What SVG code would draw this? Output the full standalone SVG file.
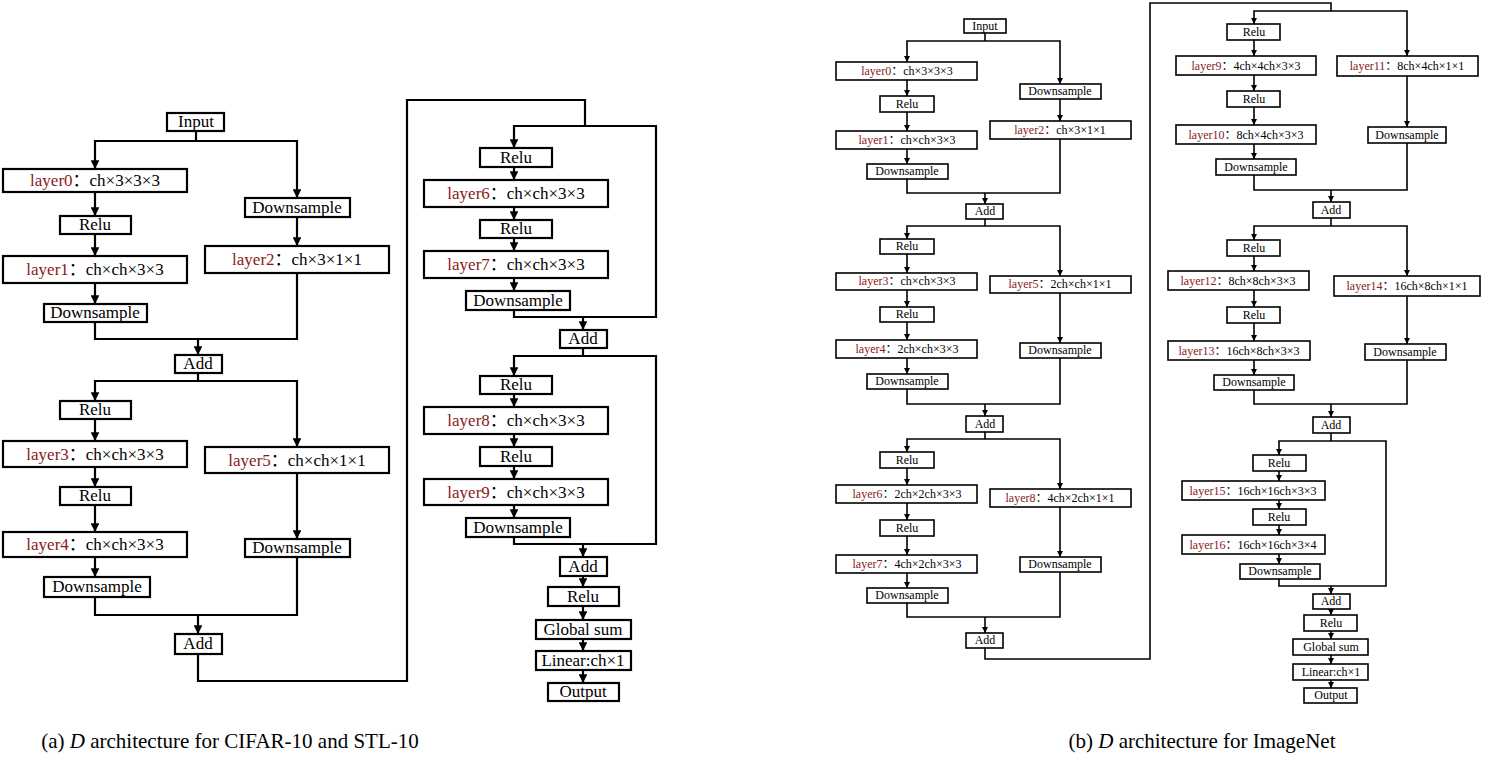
<svg xmlns="http://www.w3.org/2000/svg" width="1495" height="761" viewBox="0 0 1495 761">
<style>
rect{fill:#fff;stroke:#000}
.a rect{stroke-width:2.2}
.b rect{stroke-width:1.6}
text{font-family:"Liberation Serif","Noto Sans CJK SC",serif;text-anchor:middle;fill:#000}
.a text{font-size:17px}
.b text{font-size:12px}
.r{fill:#8b1a1a}
.ca path{fill:none;stroke:#000;stroke-width:2.2}
.cb path{fill:none;stroke:#000;stroke-width:1.6}
.cap{font-size:21px}
</style>
<defs>
<marker id="m" viewBox="0 0 10 10" refX="10" refY="5" markerWidth="4" markerHeight="4" orient="auto" markerUnits="strokeWidth"><path d="M0,0L10,5L0,10z" fill="#000"/></marker>
</defs>
<rect x="0" y="0" width="1495" height="761" style="fill:#fff;stroke:none"/>
<g class="ca">
<path d="M196,131V141"/><path d="M196,141H95V169" marker-end="url(#m)"/><path d="M196,141H297V198" marker-end="url(#m)"/>
<path d="M95,192V216" marker-end="url(#m)"/><path d="M95,234V256" marker-end="url(#m)"/><path d="M95,283V304" marker-end="url(#m)"/>
<path d="M297,217V246" marker-end="url(#m)"/><path d="M95,322V339H297V273"/><path d="M198,339V355" marker-end="url(#m)"/>
<path d="M198,373V381"/><path d="M198,381H95V401" marker-end="url(#m)"/><path d="M198,381H297V447" marker-end="url(#m)"/>
<path d="M95,419V441" marker-end="url(#m)"/><path d="M95,467V487" marker-end="url(#m)"/><path d="M95,505V532" marker-end="url(#m)"/><path d="M95,557V577" marker-end="url(#m)"/>
<path d="M297,473V539" marker-end="url(#m)"/><path d="M95,597V615H297V557"/><path d="M198,615V634" marker-end="url(#m)"/>
<path d="M198,654V681H407V100H585V126"/><path d="M585,126H514V148" marker-end="url(#m)"/><path d="M514,310V317H656V126H585"/>
<path d="M514,167V180" marker-end="url(#m)"/><path d="M514,207V220" marker-end="url(#m)"/><path d="M514,238V251" marker-end="url(#m)"/><path d="M514,278V291" marker-end="url(#m)"/>
<path d="M583,317V330" marker-end="url(#m)"/>
<path d="M583,348V356"/><path d="M583,356H514V376" marker-end="url(#m)"/><path d="M514,537V544H656V356H583"/>
<path d="M514,394V407" marker-end="url(#m)"/><path d="M514,434V447" marker-end="url(#m)"/><path d="M514,466V479" marker-end="url(#m)"/><path d="M514,505V518" marker-end="url(#m)"/>
<path d="M583,544V557" marker-end="url(#m)"/><path d="M583,576V587" marker-end="url(#m)"/><path d="M583,606V620" marker-end="url(#m)"/><path d="M583,639V651" marker-end="url(#m)"/><path d="M583,670V683" marker-end="url(#m)"/>
</g>
<g class="a">
<g id="a-input"><rect x="167" y="113" width="57" height="18"/><text x="196" y="127">Input</text></g>
<g id="a-layer0"><rect x="3" y="169" width="184" height="23"/><text x="95" y="186"><tspan class="r">layer0</tspan>：ch×3×3×3</text></g>
<g id="a-relu1"><rect x="60" y="216" width="71" height="18"/><text x="95" y="230">Relu</text></g>
<g id="a-layer1"><rect x="3" y="256" width="184" height="27"/><text x="95" y="275"><tspan class="r">layer1</tspan>：ch×ch×3×3</text></g>
<g id="a-ds1"><rect x="44" y="304" width="103" height="18"/><text x="95" y="318">Downsample</text></g>
<g id="a-ds2"><rect x="245" y="198" width="105" height="19"/><text x="297" y="213">Downsample</text></g>
<g id="a-layer2"><rect x="205" y="246" width="184" height="27"/><text x="297" y="265"><tspan class="r">layer2</tspan>：ch×3×1×1</text></g>
<g id="a-add1"><rect x="175" y="355" width="47" height="18"/><text x="198" y="369">Add</text></g>
<g id="a-relu2"><rect x="60" y="401" width="71" height="18"/><text x="95" y="415">Relu</text></g>
<g id="a-layer3"><rect x="3" y="441" width="184" height="26"/><text x="95" y="460"><tspan class="r">layer3</tspan>：ch×ch×3×3</text></g>
<g id="a-relu3"><rect x="60" y="487" width="71" height="18"/><text x="95" y="501">Relu</text></g>
<g id="a-layer4"><rect x="3" y="532" width="184" height="25"/><text x="95" y="550"><tspan class="r">layer4</tspan>：ch×ch×3×3</text></g>
<g id="a-ds3"><rect x="44" y="577" width="106" height="20"/><text x="97" y="592">Downsample</text></g>
<g id="a-layer5"><rect x="205" y="447" width="184" height="26"/><text x="297" y="466"><tspan class="r">layer5</tspan>：ch×ch×1×1</text></g>
<g id="a-ds4"><rect x="245" y="539" width="105" height="18"/><text x="297" y="553">Downsample</text></g>
<g id="a-add2"><rect x="175" y="634" width="47" height="20"/><text x="198" y="649">Add</text></g>
<g id="a-relu4"><rect x="480" y="148" width="72" height="19"/><text x="516" y="163">Relu</text></g>
<g id="a-layer6"><rect x="424" y="180" width="184" height="27"/><text x="516" y="199"><tspan class="r">layer6</tspan>：ch×ch×3×3</text></g>
<g id="a-relu5"><rect x="480" y="220" width="72" height="18"/><text x="516" y="234">Relu</text></g>
<g id="a-layer7"><rect x="424" y="251" width="184" height="27"/><text x="516" y="270"><tspan class="r">layer7</tspan>：ch×ch×3×3</text></g>
<g id="a-ds5"><rect x="466" y="291" width="104" height="19"/><text x="518" y="306">Downsample</text></g>
<g id="a-add3"><rect x="560" y="330" width="47" height="18"/><text x="583" y="344">Add</text></g>
<g id="a-relu6"><rect x="480" y="376" width="72" height="18"/><text x="516" y="390">Relu</text></g>
<g id="a-layer8"><rect x="424" y="407" width="184" height="27"/><text x="516" y="426"><tspan class="r">layer8</tspan>：ch×ch×3×3</text></g>
<g id="a-relu7"><rect x="480" y="447" width="72" height="19"/><text x="516" y="462">Relu</text></g>
<g id="a-layer9"><rect x="424" y="479" width="184" height="26"/><text x="516" y="498"><tspan class="r">layer9</tspan>：ch×ch×3×3</text></g>
<g id="a-ds6"><rect x="466" y="518" width="104" height="19"/><text x="518" y="533">Downsample</text></g>
<g id="a-add4"><rect x="560" y="557" width="47" height="19"/><text x="583" y="572">Add</text></g>
<g id="a-relu8"><rect x="548" y="587" width="71" height="19"/><text x="583" y="602">Relu</text></g>
<g id="a-gsum"><rect x="536" y="620" width="95" height="19"/><text x="583" y="635">Global sum</text></g>
<g id="a-linear"><rect x="536" y="651" width="95" height="19"/><text x="583" y="666">Linear:ch×1</text></g>
<g id="a-output"><rect x="548" y="683" width="71" height="18"/><text x="583" y="697">Output</text></g>
</g>
<g class="cb">
<path d="M985,33V41"/><path d="M985,41H907V62" marker-end="url(#m)"/><path d="M985,41H1060V84" marker-end="url(#m)"/>
<path d="M907,80V96" marker-end="url(#m)"/><path d="M907,112V131" marker-end="url(#m)"/><path d="M907,149V164" marker-end="url(#m)"/>
<path d="M1060,99V121" marker-end="url(#m)"/><path d="M907,179V193H1060V139"/><path d="M985,193V204" marker-end="url(#m)"/>
<path d="M985,219V226"/><path d="M985,226H907V239" marker-end="url(#m)"/><path d="M985,226H1060V276" marker-end="url(#m)"/>
<path d="M907,254V273" marker-end="url(#m)"/><path d="M907,290V307" marker-end="url(#m)"/><path d="M907,322V340" marker-end="url(#m)"/><path d="M907,358V374" marker-end="url(#m)"/>
<path d="M1060,293V343" marker-end="url(#m)"/><path d="M907,389V404H1060V358"/><path d="M985,404V416" marker-end="url(#m)"/>
<path d="M985,432V439"/><path d="M985,439H907V452" marker-end="url(#m)"/><path d="M985,439H1060V489" marker-end="url(#m)"/>
<path d="M907,468V485" marker-end="url(#m)"/><path d="M907,503V520" marker-end="url(#m)"/><path d="M907,536V555" marker-end="url(#m)"/><path d="M907,573V588" marker-end="url(#m)"/>
<path d="M1060,507V557" marker-end="url(#m)"/><path d="M907,603V617H1060V572"/><path d="M985,617V633" marker-end="url(#m)"/>
<path d="M985,648V659H1150V3H1331V11"/><path d="M1331,11H1254V24" marker-end="url(#m)"/><path d="M1331,11H1407V56" marker-end="url(#m)"/>
<path d="M1254,40V56" marker-end="url(#m)"/><path d="M1254,75V91" marker-end="url(#m)"/><path d="M1254,107V125" marker-end="url(#m)"/><path d="M1254,144V159" marker-end="url(#m)"/>
<path d="M1407,76V127" marker-end="url(#m)"/><path d="M1254,175V190H1407V143"/><path d="M1331,190V202" marker-end="url(#m)"/>
<path d="M1331,218V226"/><path d="M1331,226H1254V240" marker-end="url(#m)"/><path d="M1331,226H1407V276" marker-end="url(#m)"/>
<path d="M1254,256V271" marker-end="url(#m)"/><path d="M1254,290V307" marker-end="url(#m)"/><path d="M1254,323V341" marker-end="url(#m)"/><path d="M1254,360V375" marker-end="url(#m)"/>
<path d="M1407,296V344" marker-end="url(#m)"/><path d="M1254,390V404H1407V360"/><path d="M1331,404V417" marker-end="url(#m)"/>
<path d="M1331,433V441"/><path d="M1331,441H1279V455" marker-end="url(#m)"/><path d="M1279,579V586H1386V441H1331"/>
<path d="M1279,471V481" marker-end="url(#m)"/><path d="M1279,500V509" marker-end="url(#m)"/><path d="M1279,525V535" marker-end="url(#m)"/><path d="M1279,554V564" marker-end="url(#m)"/>
<path d="M1331,586V594" marker-end="url(#m)"/><path d="M1331,609V615" marker-end="url(#m)"/><path d="M1331,631V639" marker-end="url(#m)"/><path d="M1331,655V664" marker-end="url(#m)"/><path d="M1331,680V688" marker-end="url(#m)"/>
</g>
<g class="b">
<g id="b-input"><rect x="964" y="19" width="42" height="14"/><text x="985" y="30">Input</text></g>
<g id="b-layer0"><rect x="836" y="62" width="141" height="18"/><text x="907" y="75"><tspan class="r">layer0</tspan>：ch×3×3×3</text></g>
<g id="b-relu1"><rect x="880" y="96" width="54" height="16"/><text x="907" y="108">Relu</text></g>
<g id="b-layer1"><rect x="836" y="131" width="141" height="18"/><text x="907" y="144"><tspan class="r">layer1</tspan>：ch×ch×3×3</text></g>
<g id="b-ds1"><rect x="867" y="164" width="81" height="15"/><text x="907" y="175">Downsample</text></g>
<g id="b-ds2"><rect x="1020" y="84" width="81" height="15"/><text x="1060" y="95">Downsample</text></g>
<g id="b-layer2"><rect x="990" y="121" width="141" height="18"/><text x="1060" y="134"><tspan class="r">layer2</tspan>：ch×3×1×1</text></g>
<g id="b-add1"><rect x="966" y="204" width="37" height="15"/><text x="985" y="215">Add</text></g>
<g id="b-relu2"><rect x="880" y="239" width="54" height="15"/><text x="907" y="250">Relu</text></g>
<g id="b-layer3"><rect x="836" y="273" width="141" height="17"/><text x="907" y="285"><tspan class="r">layer3</tspan>：ch×ch×3×3</text></g>
<g id="b-relu3"><rect x="880" y="307" width="54" height="15"/><text x="907" y="318">Relu</text></g>
<g id="b-layer4"><rect x="836" y="340" width="141" height="18"/><text x="907" y="353"><tspan class="r">layer4</tspan>：2ch×ch×3×3</text></g>
<g id="b-ds3"><rect x="867" y="374" width="81" height="15"/><text x="907" y="385">Downsample</text></g>
<g id="b-layer5"><rect x="990" y="276" width="141" height="17"/><text x="1060" y="288"><tspan class="r">layer5</tspan>：2ch×ch×1×1</text></g>
<g id="b-ds4"><rect x="1020" y="343" width="81" height="15"/><text x="1060" y="354">Downsample</text></g>
<g id="b-add2"><rect x="966" y="416" width="37" height="16"/><text x="985" y="428">Add</text></g>
<g id="b-relu4"><rect x="880" y="452" width="54" height="16"/><text x="907" y="464">Relu</text></g>
<g id="b-layer6"><rect x="836" y="485" width="141" height="18"/><text x="907" y="498"><tspan class="r">layer6</tspan>：2ch×2ch×3×3</text></g>
<g id="b-relu5"><rect x="880" y="520" width="54" height="16"/><text x="907" y="532">Relu</text></g>
<g id="b-layer7"><rect x="836" y="555" width="141" height="18"/><text x="907" y="568"><tspan class="r">layer7</tspan>：4ch×2ch×3×3</text></g>
<g id="b-ds5"><rect x="867" y="588" width="81" height="15"/><text x="907" y="599">Downsample</text></g>
<g id="b-layer8"><rect x="990" y="489" width="141" height="18"/><text x="1060" y="502"><tspan class="r">layer8</tspan>：4ch×2ch×1×1</text></g>
<g id="b-ds6"><rect x="1020" y="557" width="81" height="15"/><text x="1060" y="568">Downsample</text></g>
<g id="b-add3"><rect x="966" y="633" width="37" height="15"/><text x="985" y="644">Add</text></g>
<g id="b-relu6"><rect x="1227" y="24" width="53" height="16"/><text x="1254" y="36">Relu</text></g>
<g id="b-layer9"><rect x="1176" y="56" width="140" height="19"/><text x="1246" y="70"><tspan class="r">layer9</tspan>：4ch×4ch×3×3</text></g>
<g id="b-relu7"><rect x="1227" y="91" width="53" height="16"/><text x="1254" y="103">Relu</text></g>
<g id="b-layer10"><rect x="1176" y="125" width="140" height="19"/><text x="1246" y="139"><tspan class="r">layer10</tspan>：8ch×4ch×3×3</text></g>
<g id="b-ds7"><rect x="1216" y="159" width="80" height="16"/><text x="1256" y="171">Downsample</text></g>
<g id="b-layer11"><rect x="1337" y="56" width="141" height="20"/><text x="1407" y="70"><tspan class="r">layer11</tspan>：8ch×4ch×1×1</text></g>
<g id="b-ds8"><rect x="1368" y="127" width="78" height="16"/><text x="1407" y="139">Downsample</text></g>
<g id="b-add4"><rect x="1313" y="202" width="37" height="16"/><text x="1331" y="214">Add</text></g>
<g id="b-relu8"><rect x="1227" y="240" width="53" height="16"/><text x="1254" y="252">Relu</text></g>
<g id="b-layer12"><rect x="1168" y="271" width="141" height="19"/><text x="1238" y="285"><tspan class="r">layer12</tspan>：8ch×8ch×3×3</text></g>
<g id="b-relu9"><rect x="1227" y="307" width="53" height="16"/><text x="1254" y="319">Relu</text></g>
<g id="b-layer13"><rect x="1168" y="341" width="142" height="19"/><text x="1239" y="355"><tspan class="r">layer13</tspan>：16ch×8ch×3×3</text></g>
<g id="b-ds9"><rect x="1214" y="375" width="80" height="15"/><text x="1254" y="386">Downsample</text></g>
<g id="b-layer14"><rect x="1334" y="276" width="146" height="20"/><text x="1407" y="290"><tspan class="r">layer14</tspan>：16ch×8ch×1×1</text></g>
<g id="b-ds10"><rect x="1365" y="344" width="81" height="16"/><text x="1405" y="356">Downsample</text></g>
<g id="b-add5"><rect x="1313" y="417" width="37" height="16"/><text x="1331" y="429">Add</text></g>
<g id="b-relu10"><rect x="1253" y="455" width="53" height="16"/><text x="1279" y="467">Relu</text></g>
<g id="b-layer15"><rect x="1182" y="481" width="143" height="19"/><text x="1253" y="495"><tspan class="r">layer15</tspan>：16ch×16ch×3×3</text></g>
<g id="b-relu11"><rect x="1253" y="509" width="53" height="16"/><text x="1279" y="521">Relu</text></g>
<g id="b-layer16"><rect x="1182" y="535" width="143" height="19"/><text x="1253" y="549"><tspan class="r">layer16</tspan>：16ch×16ch×3×4</text></g>
<g id="b-ds11"><rect x="1240" y="564" width="80" height="15"/><text x="1280" y="575">Downsample</text></g>
<g id="b-add6"><rect x="1313" y="594" width="37" height="15"/><text x="1331" y="605">Add</text></g>
<g id="b-relu12"><rect x="1304" y="615" width="53" height="16"/><text x="1331" y="627">Relu</text></g>
<g id="b-gsum"><rect x="1293" y="639" width="75" height="16"/><text x="1331" y="651">Global sum</text></g>
<g id="b-linear"><rect x="1293" y="664" width="75" height="16"/><text x="1331" y="676">Linear:ch×1</text></g>
<g id="b-output"><rect x="1304" y="688" width="53" height="15"/><text x="1331" y="699">Output</text></g>
</g>
<text class="cap" x="230" y="748">(a) <tspan font-style="italic">D</tspan> architecture for CIFAR-10 and STL-10</text>
<text class="cap" x="1202" y="748">(b) <tspan font-style="italic">D</tspan> architecture for ImageNet</text>
</svg>
